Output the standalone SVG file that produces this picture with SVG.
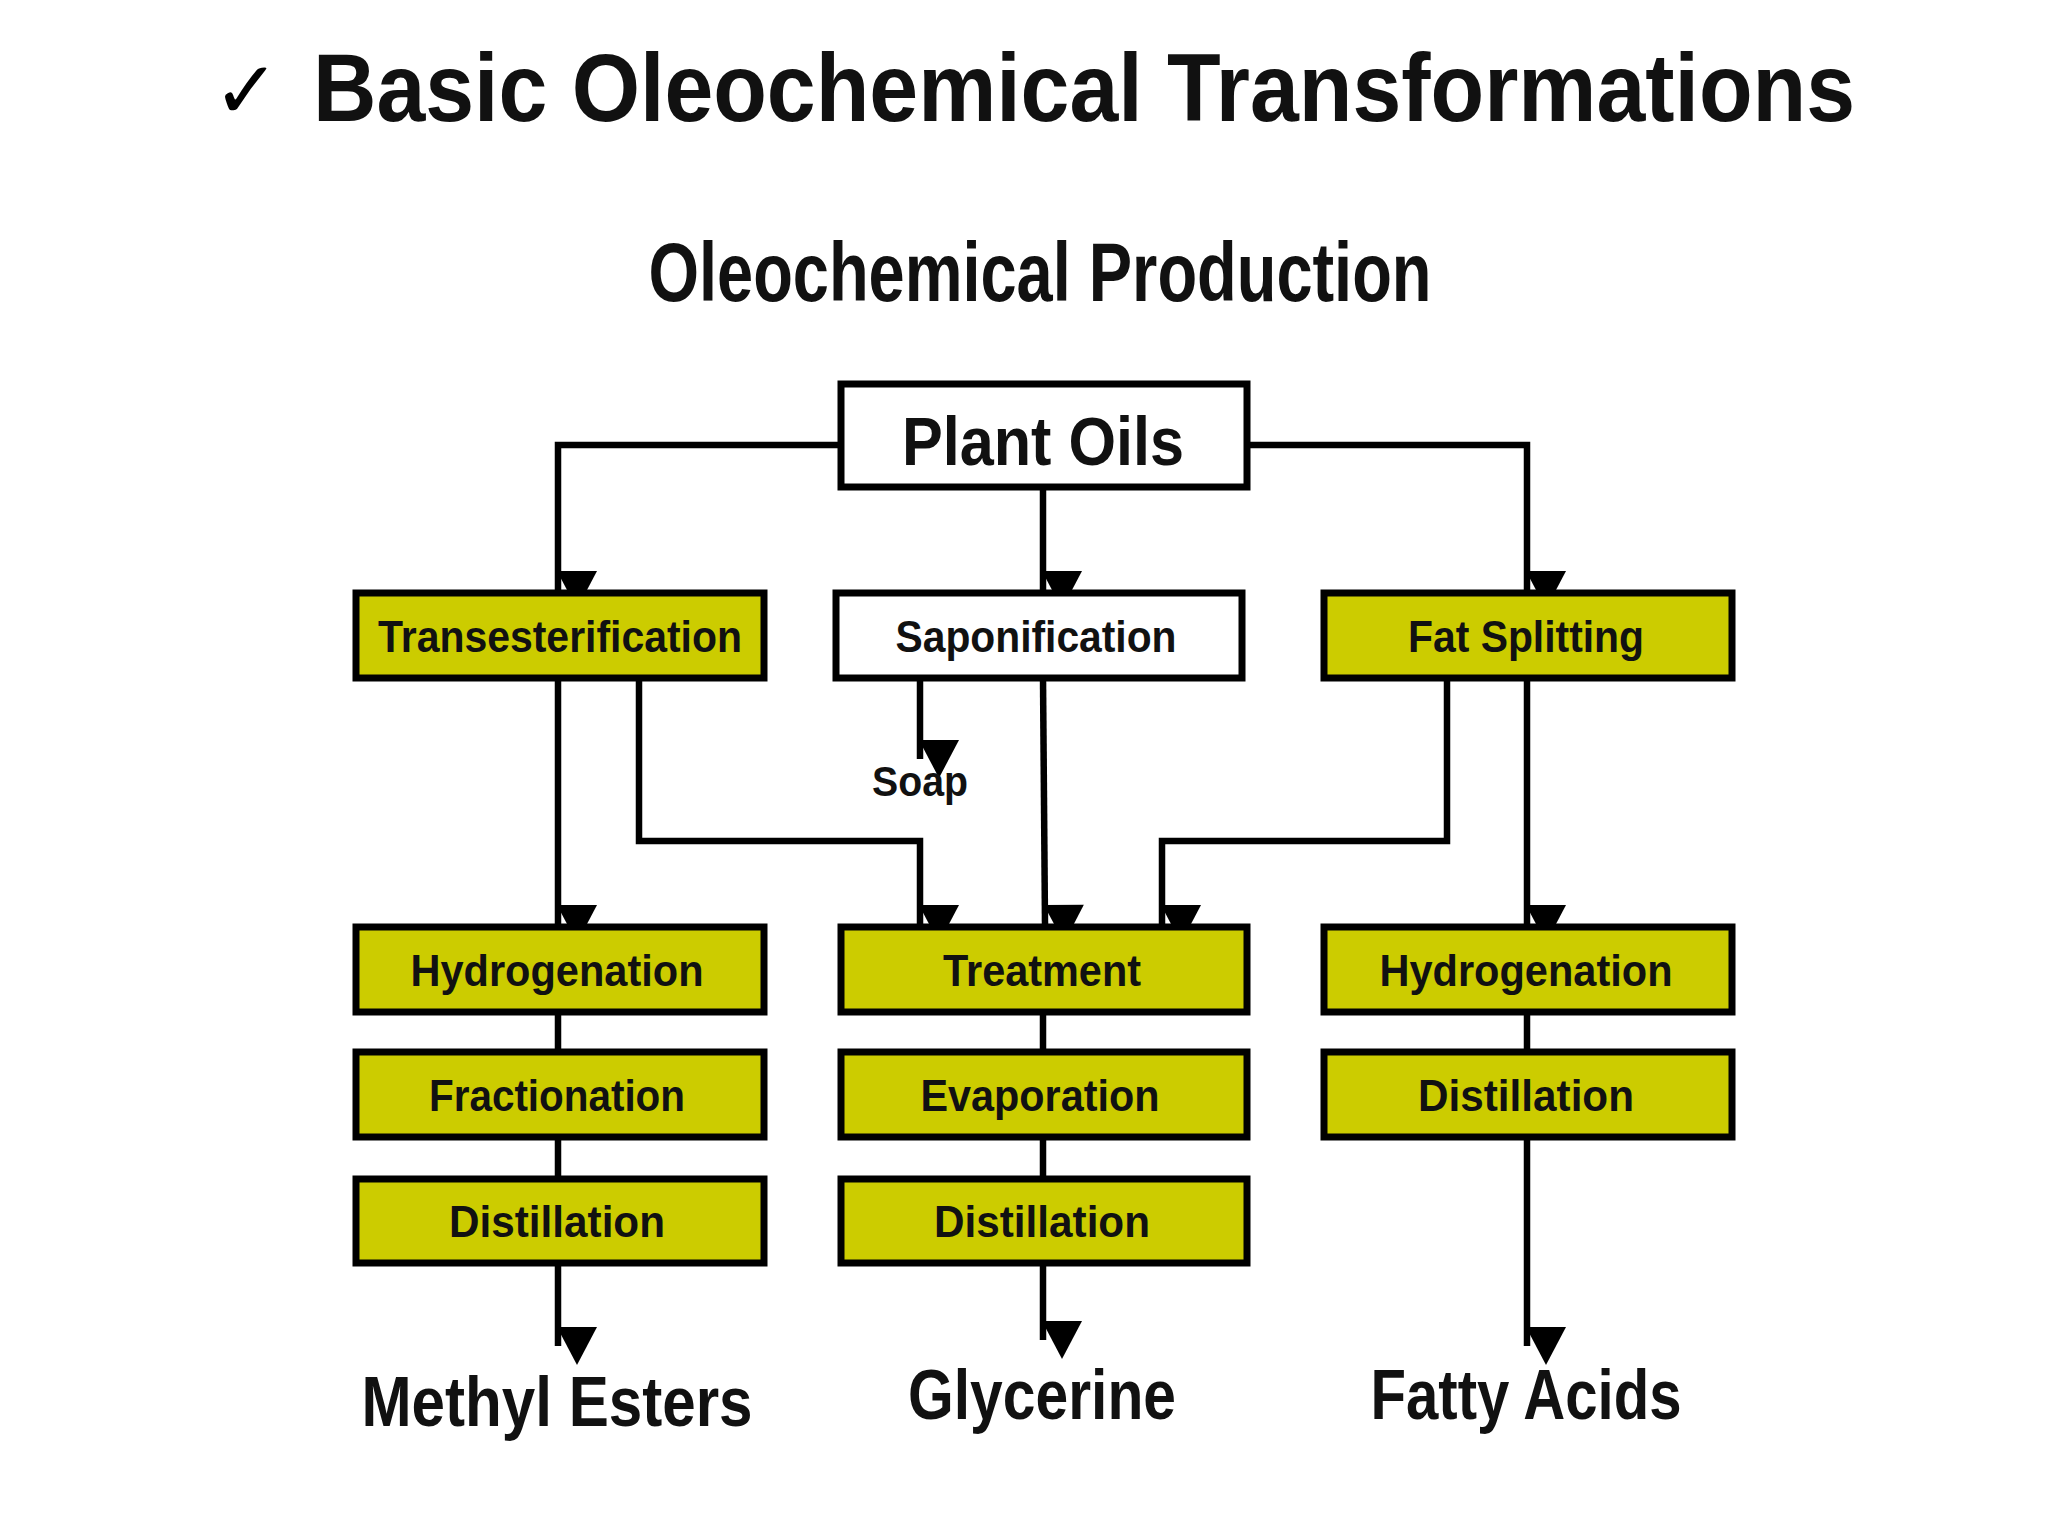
<svg xmlns="http://www.w3.org/2000/svg" width="2048" height="1536" viewBox="0 0 2048 1536">
<style>
.b{stroke:#000;stroke-width:7}
.y{fill:#cccc00}
.w{fill:#fff}
.t{font-family:"Liberation Sans",Arial,sans-serif;font-weight:bold;text-anchor:middle;fill:#111}
.c{fill:none;stroke:#000;stroke-width:6.5}
</style>
<defs>
<marker id="a" markerUnits="userSpaceOnUse" markerWidth="42" markerHeight="42" viewBox="0 0 42 42" refX="21" refY="40" orient="auto-start-reverse">
<path d="M1,2 L41,2 L21,40 Z" fill="#000" transform="rotate(-90 21 21)"/>
</marker>
</defs>
<rect width="2048" height="1536" fill="#fff"/>
<text x="213" y="118" font-family="DejaVu Sans,sans-serif" font-size="80" fill="#000">✓</text>
<text x="1084" y="121" class="t" font-size="96" textLength="1542" lengthAdjust="spacingAndGlyphs" fill="#000">Basic Oleochemical Transformations</text>
<text x="1040" y="301" class="t" font-size="84" textLength="783" lengthAdjust="spacingAndGlyphs">Oleochemical Production</text>
<g id="connectors">
<path class="c" d="M841,445 H558 V590" marker-end="url(#a)"/>
<path class="c" d="M1043,487 V590" marker-end="url(#a)"/>
<path class="c" d="M1247,445 H1527 V590" marker-end="url(#a)"/>
<path class="c" d="M558,678 V924" marker-end="url(#a)"/>
<path class="c" d="M639,678 V841 H920 V924" marker-end="url(#a)"/>
<path class="c" d="M920,678 V759" marker-end="url(#a)"/>
<path class="c" d="M1043,678 L1045,924" marker-end="url(#a)"/>
<path class="c" d="M1447,678 V841 H1162 V924" marker-end="url(#a)"/>
<path class="c" d="M1527,678 V924" marker-end="url(#a)"/>
<path class="c" d="M558,1012 V1052 M558,1137 V1179 M1043,1012 V1052 M1043,1137 V1179 M1527,1012 V1052"/>
<path class="c" d="M558,1263 V1346" marker-end="url(#a)"/>
<path class="c" d="M1043,1263 V1340" marker-end="url(#a)"/>
<path class="c" d="M1527,1137 V1346" marker-end="url(#a)"/>
</g>
<g id="plant"><rect class="b w" x="841" y="384" width="406" height="103"/><text class="t" x="1043" y="465" font-size="68" textLength="282" lengthAdjust="spacingAndGlyphs">Plant Oils</text></g>
<g id="trans"><rect class="b y" x="356" y="593" width="408" height="85"/><text class="t" x="560" y="652" font-size="44" textLength="364" lengthAdjust="spacingAndGlyphs">Transesterification</text></g>
<g id="sapon"><rect class="b w" x="836" y="593" width="406" height="85"/><text class="t" x="1036" y="652" font-size="44" textLength="281" lengthAdjust="spacingAndGlyphs">Saponification</text></g>
<g id="fat"><rect class="b y" x="1324" y="593" width="408" height="85"/><text class="t" x="1526" y="652" font-size="44" textLength="236" lengthAdjust="spacingAndGlyphs">Fat Splitting</text></g>
<g id="soap"><text class="t" x="920" y="796" font-size="42" textLength="96" lengthAdjust="spacingAndGlyphs">Soap</text></g>
<g id="hyd1"><rect class="b y" x="356" y="927" width="408" height="85"/><text class="t" x="557" y="986" font-size="44" textLength="293" lengthAdjust="spacingAndGlyphs">Hydrogenation</text></g>
<g id="treat"><rect class="b y" x="841" y="927" width="406" height="85"/><text class="t" x="1042" y="986" font-size="44" textLength="198" lengthAdjust="spacingAndGlyphs">Treatment</text></g>
<g id="hyd2"><rect class="b y" x="1324" y="927" width="408" height="85"/><text class="t" x="1526" y="986" font-size="44" textLength="293" lengthAdjust="spacingAndGlyphs">Hydrogenation</text></g>
<g id="frac"><rect class="b y" x="356" y="1052" width="408" height="85"/><text class="t" x="557" y="1111" font-size="44" textLength="256" lengthAdjust="spacingAndGlyphs">Fractionation</text></g>
<g id="evap"><rect class="b y" x="841" y="1052" width="406" height="85"/><text class="t" x="1040" y="1111" font-size="44" textLength="239" lengthAdjust="spacingAndGlyphs">Evaporation</text></g>
<g id="dist3"><rect class="b y" x="1324" y="1052" width="408" height="85"/><text class="t" x="1526" y="1111" font-size="44" textLength="216" lengthAdjust="spacingAndGlyphs">Distillation</text></g>
<g id="dist1"><rect class="b y" x="356" y="1179" width="408" height="84"/><text class="t" x="557" y="1237" font-size="44" textLength="216" lengthAdjust="spacingAndGlyphs">Distillation</text></g>
<g id="dist2"><rect class="b y" x="841" y="1179" width="406" height="84"/><text class="t" x="1042" y="1237" font-size="44" textLength="216" lengthAdjust="spacingAndGlyphs">Distillation</text></g>
<g id="methyl"><text class="t" x="557" y="1426" font-size="70" textLength="391" lengthAdjust="spacingAndGlyphs">Methyl Esters</text></g>
<g id="glyc"><text class="t" x="1042" y="1419" font-size="70" textLength="268" lengthAdjust="spacingAndGlyphs">Glycerine</text></g>
<g id="fatty"><text class="t" x="1526" y="1419" font-size="70" textLength="311" lengthAdjust="spacingAndGlyphs">Fatty Acids</text></g>
</svg>
